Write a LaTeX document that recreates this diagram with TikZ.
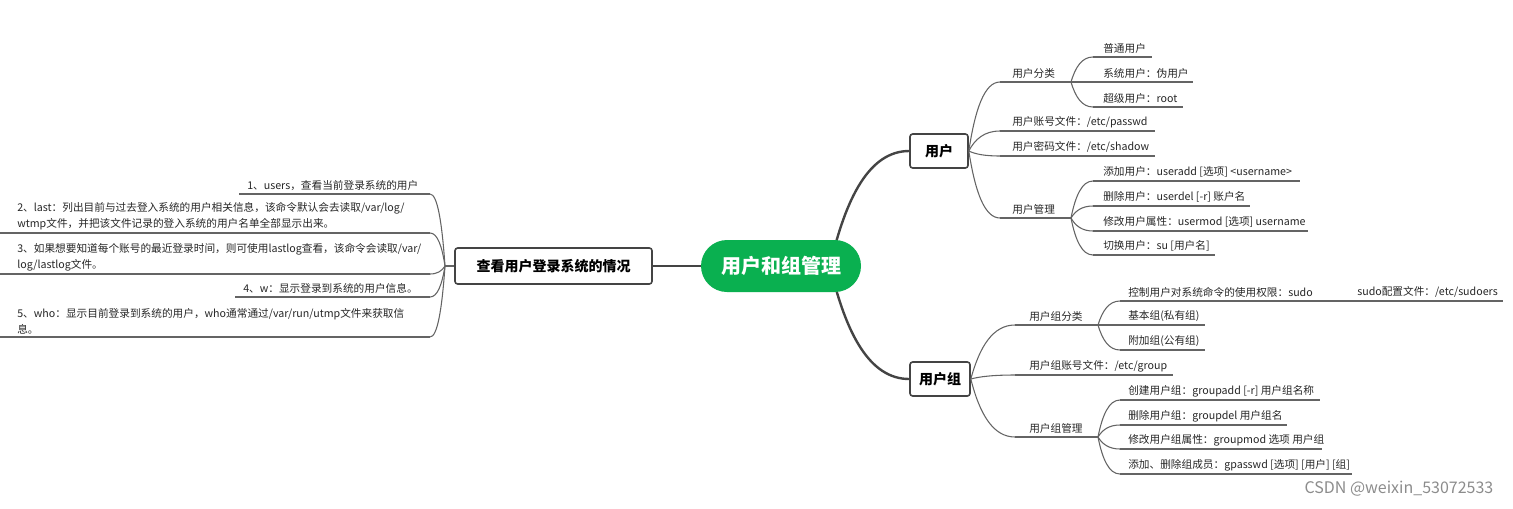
\documentclass[tikz,border=0pt]{standalone}
\usepackage{fontspec}
\setmainfont{Noto Sans CJK SC}
\usetikzlibrary{calc}
\definecolor{mmgreen}{RGB}{10,176,80}
\definecolor{mmline}{RGB}{100,100,100}
\definecolor{mmdark}{RGB}{68,68,68}
\tikzset{
 itm/.style={anchor=south west,inner xsep=0pt,inner ysep=2.2pt,font=\fontsize{8}{12}\selectfont,align=left,text=black!85},
 ul/.style={draw=mmline,line width=0.8pt},
 mm/.style={to path={.. controls ($(\tikztostart)!0.6!(\tikztostart|-\tikztotarget) + 0.2*(\tikztotarget) - 0.2*(\tikztostart|-\tikztotarget)$) and ($(\tikztostart|-\tikztotarget)!0.5!(\tikztotarget)$) .. (\tikztotarget)}},
 br/.style={draw=mmline,line width=0.8pt},
 mainbr/.style={draw=mmdark,line width=1.8pt},
 box/.style={draw=mmdark,line width=1.2pt,rounded corners=2pt,fill=white,font=\bfseries\fontsize{10.5}{12}\selectfont,inner sep=0pt},
}
% name, x start, y, length, pad, text
\newcommand\itm[6]{%
 \coordinate (#1s) at (#2,#3);
 \coordinate (#1e) at (#2+#4,#3);
 \node[itm] (#1) at (#2+#5,#3) {#6};
 \draw[ul] (#1s) -- (#1e);}
\begin{document}
\begin{tikzpicture}[x=0.75pt,y=-0.75pt]
\useasboundingbox (0,0) rectangle (1513,508);
\coordinate (ch) at (830,266);
\node[box,minimum width=58*0.75pt,minimum height=34*0.75pt] (u) at (939,151) {用户};
\node[box,minimum width=60*0.75pt,minimum height=34*0.75pt] (g) at (940,379) {用户组};
\node[box,minimum width=197*0.75pt,minimum height=36*0.75pt] (l) at (553.5,266) {查看用户登录系统的情况};
\draw[mainbr] (ch) to[mm] (u.west);
\draw[mainbr] (ch) to[mm] (g.west);
\draw[mainbr] (ch) -- (l.east);
\node[fill=mmgreen,rounded corners=26*0.75pt,minimum width=160*0.75pt,minimum height=52*0.75pt,text=white,font=\bfseries\fontsize{15}{16}\selectfont] (c) at (781,266) {用户和组管理};
% left items
\coordinate (lh) at (445,266);
\draw[br] (l.west) -- (lh);
\itm{a1}{239}{194}{191}{8}{1、users，查看当前登录系统的用户}
\itm{a2}{0}{233}{430}{17}{2、last：列出目前与过去登入系统的用户相关信息，该命令默认会去读取/var/log/\\wtmp文件，并把该文件记录的登入系统的用户名单全部显示出来。}
\itm{a3}{0}{274}{430}{17}{3、如果想要知道每个账号的最近登录时间，则可使用lastlog查看，该命令会读取/var/\\log/lastlog文件。}
\itm{a4}{235}{297}{195}{8}{4、w：显示登录到系统的用户信息。}
\itm{a5}{0}{337}{430}{17}{5、who：显示目前登录到系统的用户，who通常通过/var/run/utmp文件来获取信\\息。}
\foreach \i in {a1,a2,a3,a4,a5} \draw[br] (lh) to[mm] (\i e);
% user
\itm{u1}{1000}{82}{71}{12}{用户分类}
\itm{u2}{1000}{131}{155}{12}{用户账号文件：/etc/passwd}
\itm{u3}{1000}{156}{155}{12}{用户密码文件：/etc/shadow}
\itm{u4}{1000}{218}{71}{12}{用户管理}
\foreach \i in {u1,u2,u3,u4} \draw[br] (u.east) to[mm] (\i s);
\itm{u11}{1093}{57}{59}{10}{普通用户}
\itm{u12}{1071}{82}{122}{32}{系统用户：伪用户}
\itm{u13}{1093}{107}{90}{10}{超级用户：root}
\draw[br] (u1e) to[mm] (u11s);
\draw[br] (u1e) to[mm] (u13s);
\itm{u41}{1093}{181}{207}{10}{添加用户：useradd [选项] <username>}
\itm{u42}{1093}{206}{157}{10}{删除用户：userdel [-r] 账户名}
\itm{u43}{1093}{231}{215}{10}{修改用户属性：usermod [选项] username}
\itm{u44}{1093}{255}{122}{10}{切换用户：su [用户名]}
\foreach \i in {u41,u42,u43,u44} \draw[br] (u4e) to[mm] (\i s);
% group
\itm{g1}{1015}{325}{83}{14}{用户组分类}
\itm{g2}{1015}{375}{158}{14}{用户组账号文件：/etc/group}
\itm{g3}{1015}{437}{83}{14}{用户组管理}
\foreach \i in {g1,g2,g3} \draw[br] (g.east) to[mm] (\i s);
\itm{g11}{1120}{301}{190}{8}{控制用户对系统命令的使用权限：sudo}
\itm{g111}{1310}{301}{193}{47}{sudo配置文件：/etc/sudoers}
\itm{g12}{1098}{325}{107}{30}{基本组(私有组)}
\itm{g13}{1120}{350}{85}{8}{附加组(公有组)}
\draw[br] (g1e) to[mm] (g11s);
\draw[br] (g1e) to[mm] (g13s);
\itm{g31}{1120}{400}{200}{8}{创建用户组：groupadd [-r] 用户组名称}
\itm{g32}{1120}{425}{167}{8}{删除用户组：groupdel 用户组名}
\itm{g33}{1120}{449}{202}{8}{修改用户组属性：groupmod 选项 用户组}
\itm{g34}{1120}{474}{232}{8}{添加、删除组成员：gpasswd [选项] [用户] [组]}
\foreach \i in {g31,g32,g33,g34} \draw[br] (g3e) to[mm] (\i s);
\node[font=\fontsize{12}{14}\selectfont,text=black!45,anchor=east] (wm) at (1498,489) {CSDN @weixin\_53072533};
\end{tikzpicture}
\end{document}
